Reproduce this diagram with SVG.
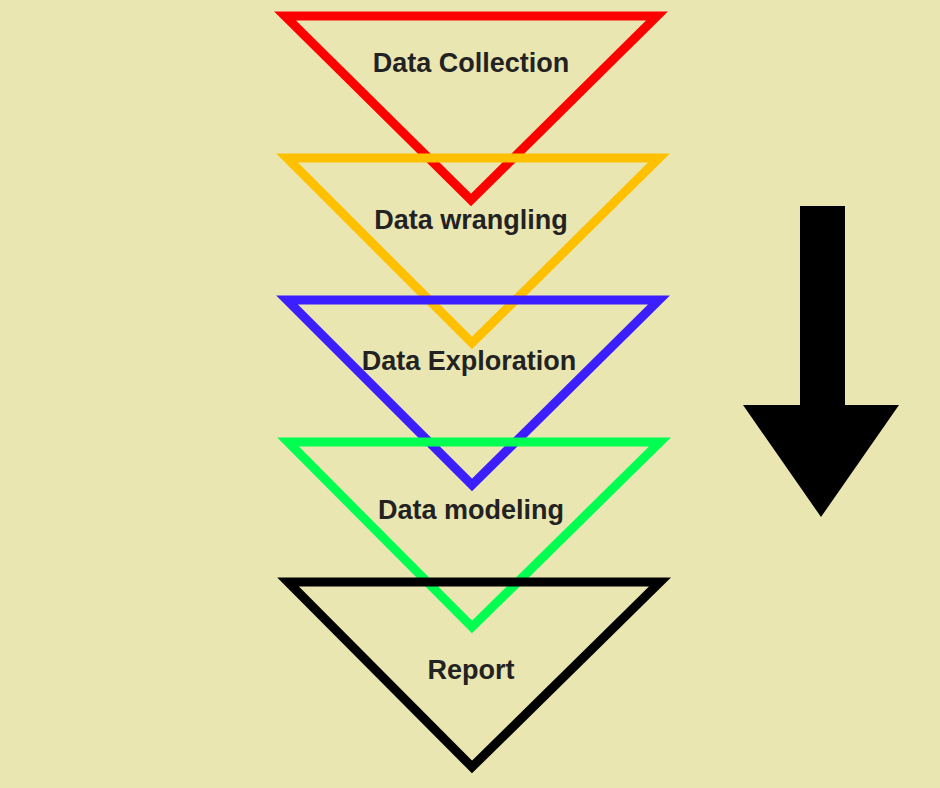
<svg xmlns="http://www.w3.org/2000/svg" width="940" height="788" viewBox="0 0 940 788">
<style>
.tri{fill:none;stroke-width:9;stroke-linejoin:miter}
.lbl{font-family:"Liberation Sans",Arial,sans-serif;font-weight:bold;font-size:27px;fill:#222;text-anchor:middle}
</style>
<rect width="940" height="788" fill="#EAE6B1"/>
<g id="collection"><polygon class="tri" stroke="#FF0000" points="285,16 657,16 471,200"/><text class="lbl" x="471" y="72">Data Collection</text></g>
<g id="wrangling"><polygon class="tri" stroke="#FFC000" points="287,158 659,158 472,343"/><text class="lbl" x="471" y="229">Data wrangling</text></g>
<g id="exploration"><polygon class="tri" stroke="#3C1FFF" points="287,300 659,300 472,485"/><text class="lbl" x="469" y="370">Data Exploration</text></g>
<g id="modeling"><polygon class="tri" stroke="#00FF50" points="288,442 660,442 472,627"/><text class="lbl" x="471" y="519">Data modeling</text></g>
<g id="report"><polygon class="tri" stroke="#000000" points="288,582 660,582 472,767"/><text class="lbl" x="471" y="679">Report</text></g>
<g id="connectors"><path d="M800,206 H845 V405 H899 L821,517 L743,405 H800 Z" fill="#000"/></g>
</svg>
